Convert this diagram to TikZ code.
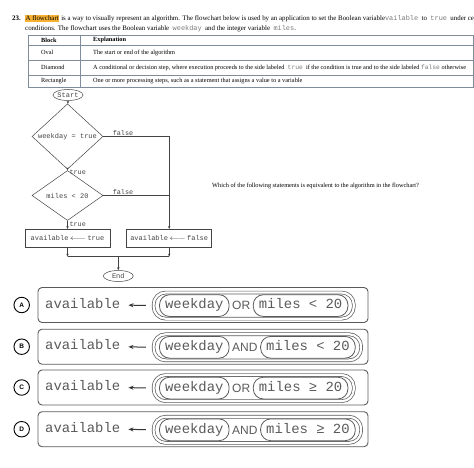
\documentclass[tikz,border=0pt]{standalone}
\usepackage{fontspec}
\usepackage{graphicx}
\setmainfont{Liberation Serif}
\newfontfamily\monofam{Liberation Mono}
\newfontfamily\sansfam{Liberation Sans}
\usetikzlibrary{shapes.geometric,arrows.meta,fit,positioning}
\definecolor{ink}{HTML}{444444}
\definecolor{optgray}{HTML}{5A5A5A}
\definecolor{tblline}{HTML}{7F8C99}
\definecolor{hlcol}{HTML}{F6B135}
\definecolor{codegray}{HTML}{7A7A7A}
\newcommand\cw[1]{{\monofam\color{codegray}#1}}
\newcommand\fcarrowsym{\raisebox{0.2pt}{\scalebox{1.3}[1]{$\longleftarrow$}}}
\newcommand\optrow[4]{%
  \node[optbox] (box#1) at (203,#2) {};
  \node[letter] (let#1) at (21.7,#2) {#1};
  \node[avail] (av#1) at (45,#2) {available};
  \node[pill] (wk#1) at (194.3,#2+0.6) {weekday};
  \node[opname, right=0pt of wk#1] (op#1) {#3};
  \node[pill, right=0pt of op#1] (mi#1) {miles #4 20};
  \node[outerpill, fit=(wk#1)(mi#1)] (par#1) {};
  \draw[optarrow] (par#1.west) -- (av#1.east);
}
\begin{document}
\begin{tikzpicture}[x=1pt,y=-1pt,
  hdr/.style={inner sep=0pt, anchor=base west, font=\fontsize{6.9}{8}\selectfont},
  tbltxt/.style={inner sep=0pt, anchor=west, font=\fontsize{6.3}{7}\selectfont},
  tblrule/.style={draw=tblline, line width=0.6pt},
  fc/.style={draw=ink, line width=0.5pt, text=ink, font=\monofam\fontsize{7}{8}\selectfont},
  fcline/.style={draw=ink, line width=0.5pt},
  fcarrow/.style={fcline, -{Stealth[length=3pt,width=2.4pt]}},
  lbl/.style={inner sep=0.6pt, text=ink, font=\monofam\fontsize{6.8}{8}\selectfont},
  optbox/.style={draw=optgray, line width=0.9pt, rounded corners=4pt, minimum width=330pt, minimum height=35pt, inner sep=0pt},
  letter/.style={circle, draw=black, line width=0.9pt, minimum size=15.5pt, inner sep=0pt, font=\sansfam\bfseries\fontsize{6.5}{7}\selectfont},
  avail/.style={inner sep=0pt, anchor=west, text=optgray, text height=9pt, text depth=2.5pt, font=\monofam\fontsize{13.9}{15}\selectfont},
  pill/.style={draw=optgray, line width=0.8pt, rounded corners=10pt, minimum height=21.7pt, inner xsep=5.6pt, inner ysep=0pt, text height=9pt, text depth=2.5pt, text=optgray, font=\monofam\fontsize{13.9}{15}\selectfont},
  opname/.style={inner xsep=2.5pt, inner ysep=0pt, text=optgray, text height=8.5pt, text depth=0pt, font=\sansfam\fontsize{12}{13}\selectfont},
  outerpill/.style={draw=optgray, line width=0.7pt, double=white, double distance=2.2pt, rounded corners=12pt, inner xsep=5.5pt, inner ysep=1.8pt},
  optarrow/.style={draw=black!80, line width=1pt, -{Stealth[length=5pt,width=4pt]}, shorten >=8pt, shorten <=7.5pt}
]
\useasboundingbox (0,0) rectangle (474,468);

% header text
\node[hdr, font=\bfseries\fontsize{6.9}{8}\selectfont] (num) at (12,21) {23.};
\node[hdr, fill=hlcol, inner xsep=0.4pt, inner ysep=1.2pt] (hl) at (25,21) {A flowchart};
\node[hdr] (line1) at (hl.base east) {\ is a way to visually represent an algorithm. The flowchart below is used by an application to set the Boolean variable\cw{vailable}\ \ to \ \cw{true}\ \ under ce};
\node[hdr] (line2) at (25,31) {conditions. The flowchart uses the Boolean variable \ \cw{weekday}\ \ and the integer variable \ \cw{miles}.};

% table
\draw[tblrule] (28,35) rectangle (473,87);
\draw[tblrule] (28,45) -- (473,45);
\draw[tblrule] (28,60) -- (473,60);
\draw[tblrule] (28,75) -- (473,75);
\draw[tblrule] (80,35) -- (80,87);
\node[tbltxt, font=\bfseries\fontsize{6.3}{7}\selectfont] (tb1) at (41,40) {Block};
\node[tbltxt, font=\bfseries\fontsize{6.3}{7}\selectfont] (te1) at (93,40) {Explanation};
\node[tbltxt] (tb2) at (41,52.5) {Oval};
\node[tbltxt] (te2) at (93,52.5) {The start or end of the algorithm};
\node[tbltxt] (tb3) at (41,67.5) {Diamond};
\node[tbltxt] (te3) at (93,67.5) {A conditional or decision step, where execution proceeds to the side labeled \ \cw{true}\ \ if the condition is true and to the side labeled \cw{false} otherwise};
\node[tbltxt] (tb4) at (41,81) {Rectangle};
\node[tbltxt] (te4) at (93,81) {One or more processing steps, such as a statement that assigns a value to a variable};

% flowchart
\node[fc, ellipse, minimum width=30pt, minimum height=11pt, inner sep=0pt] (start) at (68,95) {Start};
\node[fc, diamond, minimum width=71pt, minimum height=50pt, inner sep=0pt] (d1) at (67.5,136.5) {weekday = true};
\node[fc, diamond, minimum width=71pt, minimum height=50pt, inner sep=0pt] (d2) at (67.5,195.5) {miles < 20};
\node[fc, minimum width=85pt, minimum height=17.5pt, inner sep=1pt] (r1) at (67.5,238) {available\,\fcarrowsym\,true};
\node[fc, minimum width=85pt, minimum height=17.5pt, inner sep=1pt] (r2) at (169.2,238) {available\,\fcarrowsym\,false};
\node[fc, ellipse, minimum width=30pt, minimum height=11pt, inner sep=0pt] (endn) at (118.3,276) {End};
\coordinate (j) at (118.3,256.7);

\draw[fcarrow] (start) -- (d1);
\draw[fcarrow] (d1) -- (d2) node[lbl, pos=0, anchor=north west, xshift=1.2pt] {true};
\draw[fcarrow] (d2) -- (r1) node[lbl, pos=0, anchor=north west, xshift=1.2pt] {true};
\draw[fcarrow] (d1.east) -- node[lbl, above, pos=0.3] {false} (d1.east -| r2.north) -- (r2.north);
\draw[fcline] (d2.east) -- node[lbl, above, pos=0.3] {false} (d2.east -| r2.north);
\draw[fcarrow] (r1.south) -- (r1.south |- j);
\draw[fcarrow] (r2.south) -- (r2.south |- j);
\draw[fcline] (r1.south |- j) -- (r2.south |- j);
\draw[fcarrow] (j) -- (endn);

% question
\node[tbltxt] (q) at (212,185.5) {Which of the following statements is equivalent to the algorithm in the flowchart?};

% options
\optrow{A}{305}{OR}{<}
\optrow{B}{346.7}{AND}{<}
\optrow{C}{387.5}{OR}{≥}
\optrow{D}{429.2}{AND}{≥}
\end{tikzpicture}
\end{document}
